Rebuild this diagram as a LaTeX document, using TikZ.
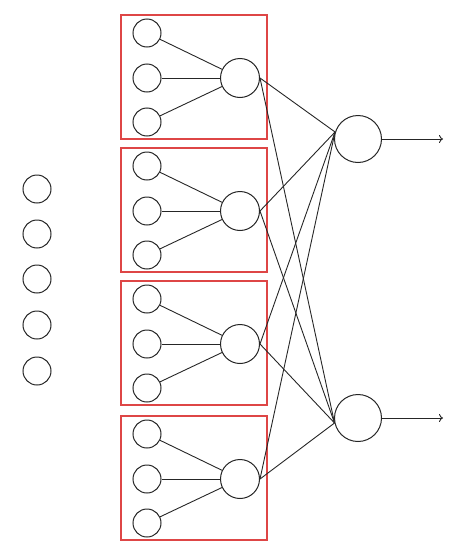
\documentclass[tikz,border=0pt]{standalone}
\usetikzlibrary{arrows.meta}
\definecolor{boxred}{RGB}{222,70,70}
\begin{document}
\begin{tikzpicture}[x=1pt,y=-1pt,
  neuron/.style={circle,draw=black!85,line width=1pt,inner sep=0pt,minimum size=28pt},
  hidden/.style={circle,draw=black!85,line width=1pt,inner sep=0pt,minimum size=39pt},
  outneuron/.style={circle,draw=black!85,line width=1pt,inner sep=0pt,minimum size=47pt},
  groupbox/.style={draw=boxred,line width=1.3pt},
  conn/.style={draw=black!85,line width=0.9pt}]
\useasboundingbox (0,0) rectangle (474,557);
% left column
\foreach \i/\yy in {1/189,2/234,3/279,4/325,5/371}
  \node[neuron] (l\i) at (37,\yy) {};
% group boxes
\draw[groupbox] (121,15) rectangle (267,139);
\draw[groupbox] (121,148) rectangle (267,272);
\draw[groupbox] (121,281) rectangle (267,405);
\draw[groupbox] (121,416) rectangle (267,540);
% groups
\foreach \g/\T in {1/15,2/148,3/281,4/416}{
  \node[neuron] (a\g) at (147,\T+18) {};
  \node[neuron] (b\g) at (147,\T+63) {};
  \node[neuron] (c\g) at (147,\T+107) {};
  \node[hidden] (h\g) at (240,\T+63) {};
  \draw[conn] (a\g) -- (h\g);
  \draw[conn] (b\g) -- (h\g);
  \draw[conn] (c\g) -- (h\g);
}
% outputs
\node[outneuron] (o1) at (358,139) {};
\node[outneuron] (o2) at (358,418) {};
\coordinate (e1) at (443,139);
\coordinate (e2) at (443,418);
\foreach \g in {1,2,3,4}{
  \draw[conn] (h\g.east) -- (o1.163);
  \draw[conn] (h\g.east) -- (o2.192);
}
\draw[conn,-{To[length=4pt,width=8pt]}] (o1.east) -- (e1);
\draw[conn,-{To[length=4pt,width=8pt]}] (o2.east) -- (e2);
\end{tikzpicture}
\end{document}
